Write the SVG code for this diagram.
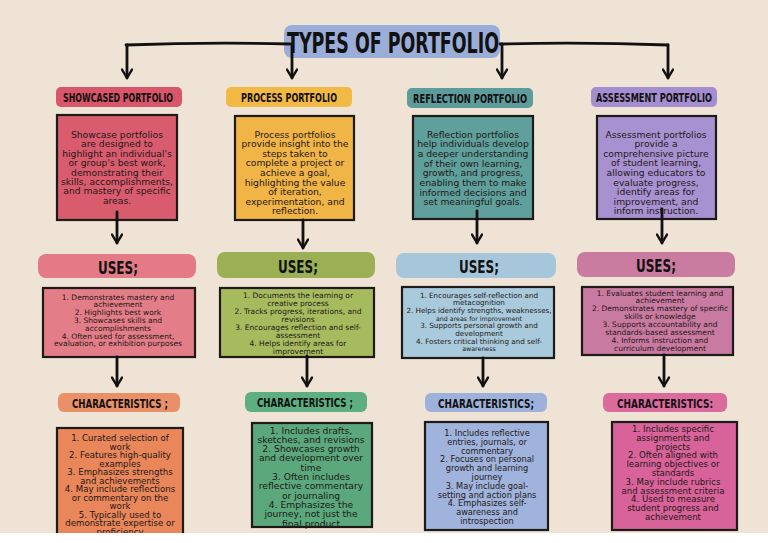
<svg xmlns="http://www.w3.org/2000/svg" width="768" height="543" viewBox="0 0 768 543">
<defs>
<style>
.hd{font-family:"DejaVu Sans Condensed","DejaVu Sans",sans-serif;font-weight:bold;fill:#111;text-anchor:middle}
.bd{font-family:"DejaVu Sans","Liberation Sans",sans-serif;fill:#1f1816;text-anchor:middle}
.box{stroke:#1e1a18;stroke-width:2.2}
.con{fill:none;stroke:#111;stroke-width:2.8;stroke-linecap:round}
</style>
<marker id="ah" viewBox="0 0 12 12" refX="10" refY="6" markerWidth="12" markerHeight="12" markerUnits="userSpaceOnUse" orient="auto">
<path d="M1.5,1 L10,6 L1.5,11" fill="none" stroke="#111" stroke-width="2.4" stroke-linecap="round" stroke-linejoin="round"/>
</marker>
</defs>
<rect x="0" y="0" width="768" height="543" fill="#eee3d4"/>

<g id="title">
<rect x="284" y="25" width="216" height="33" rx="8" fill="#9aaed9"/>
<text class="hd" x="393" y="53" font-size="28" textLength="212" lengthAdjust="spacingAndGlyphs">TYPES OF PORTFOLIO</text>
</g>

<g id="showcased">
<rect x="56" y="87" width="126" height="20" rx="5" fill="#d9566a"/>
<text class="hd" x="118" y="102" font-size="12" textLength="110" lengthAdjust="spacingAndGlyphs">SHOWCASED PORTFOLIO</text>
<rect class="box" x="57" y="115" width="120" height="105" fill="#d95c6e"/>
<text class="bd" font-size="9.2"><tspan x="117" y="138">Showcase portfolios</tspan><tspan x="117" y="147.4">are designed to</tspan><tspan x="117" y="156.8">highlight an individual's</tspan><tspan x="117" y="166.2">or group's best work,</tspan><tspan x="117" y="175.6">demonstrating their</tspan><tspan x="117" y="185">skills, accomplishments,</tspan><tspan x="117" y="194.4">and mastery of specific</tspan><tspan x="117" y="203.8">areas.</tspan></text>
</g>

<g id="process">
<rect x="226" y="87" width="126" height="20" rx="5" fill="#f3b945"/>
<text class="hd" x="289" y="102" font-size="12" textLength="96" lengthAdjust="spacingAndGlyphs">PROCESS PORTFOLIO</text>
<rect class="box" x="235" y="116" width="119" height="104" fill="#f0b447"/>
<text class="bd" font-size="9.2"><tspan x="295" y="137.5">Process portfolios</tspan><tspan x="295" y="147.1">provide insight into the</tspan><tspan x="295" y="156.7">steps taken to</tspan><tspan x="295" y="166.3">complete a project or</tspan><tspan x="295" y="175.9">achieve a goal,</tspan><tspan x="295" y="185.5">highlighting the value</tspan><tspan x="295" y="195.1">of iteration,</tspan><tspan x="295" y="204.7">experimentation, and</tspan><tspan x="295" y="214.3">reflection.</tspan></text>
</g>

<g id="reflection">
<rect x="407" y="88" width="126" height="20" rx="5" fill="#5d9c9a"/>
<text class="hd" x="470" y="103" font-size="12" textLength="114" lengthAdjust="spacingAndGlyphs">REFLECTION PORTFOLIO</text>
<rect class="box" x="413" y="116" width="120" height="103" fill="#5f9f9c"/>
<text class="bd" font-size="9.2"><tspan x="473" y="137.5">Reflection portfolios</tspan><tspan x="473" y="147.2">help individuals develop</tspan><tspan x="473" y="156.9">a deeper understanding</tspan><tspan x="473" y="166.6">of their own learning,</tspan><tspan x="473" y="176.3">growth, and progress,</tspan><tspan x="473" y="186">enabling them to make</tspan><tspan x="473" y="195.7">informed decisions and</tspan><tspan x="473" y="205.4">set meaningful goals.</tspan></text>
</g>

<g id="assessment">
<rect x="591" y="87" width="126" height="20" rx="5" fill="#a58ed0"/>
<text class="hd" x="654" y="102" font-size="12" textLength="116" lengthAdjust="spacingAndGlyphs">ASSESSMENT PORTFOLIO</text>
<rect class="box" x="597" y="116" width="119" height="103" fill="#a891d1"/>
<text class="bd" font-size="9.2"><tspan x="656" y="137.5">Assessment portfolios</tspan><tspan x="656" y="147.1">provide a</tspan><tspan x="656" y="156.7">comprehensive picture</tspan><tspan x="656" y="166.3">of student learning,</tspan><tspan x="656" y="175.9">allowing educators to</tspan><tspan x="656" y="185.5">evaluate progress,</tspan><tspan x="656" y="195.1">identify areas for</tspan><tspan x="656" y="204.7">improvement, and</tspan><tspan x="656" y="214.3">inform instruction.</tspan></text>
</g>

<g id="uses-showcased">
<rect x="38" y="254" width="158" height="24" rx="8" fill="#e47a86"/>
<text class="hd" x="118" y="274" font-size="17" textLength="40" lengthAdjust="spacingAndGlyphs">USES;</text>
<rect class="box" x="43" y="288" width="152" height="69" fill="#e37d87"/>
<text class="bd" font-size="7.5"><tspan x="118" y="299.5">1. Demonstrates mastery and</tspan><tspan x="118" y="307.3">achievement</tspan><tspan x="118" y="315.1">2. Highlights best work</tspan><tspan x="118" y="322.9">3. Showcases skills and</tspan><tspan x="118" y="330.7">accomplishments</tspan><tspan x="118" y="338.5">4. Often used for assessment,</tspan><tspan x="118" y="346.3">evaluation, or exhibition purposes</tspan></text>
</g>

<g id="uses-process">
<rect x="217" y="252" width="158" height="26" rx="8" fill="#9bb055"/>
<text class="hd" x="298" y="273" font-size="17" textLength="40" lengthAdjust="spacingAndGlyphs">USES;</text>
<rect class="box" x="220" y="288" width="154" height="69" fill="#a6bb5e"/>
<text class="bd" font-size="7.5"><tspan x="298" y="297.5">1. Documents the learning or</tspan><tspan x="298" y="305.6">creative process</tspan><tspan x="298" y="313.7">2. Tracks progress, iterations, and</tspan><tspan x="298" y="321.8">revisions</tspan><tspan x="298" y="329.9">3. Encourages reflection and self-</tspan><tspan x="298" y="338">assessment</tspan><tspan x="298" y="346.1">4. Helps identify areas for</tspan><tspan x="298" y="354.2">improvement</tspan></text>
</g>

<g id="uses-reflection">
<rect x="396" y="253" width="160" height="25" rx="8" fill="#a6c6dc"/>
<text class="hd" x="479" y="273" font-size="17" textLength="40" lengthAdjust="spacingAndGlyphs">USES;</text>
<rect class="box" x="402" y="287" width="152" height="71" fill="#a9c9dc"/>
<text class="bd" font-size="7.2"><tspan x="479" y="297.5">1. Encourages self-reflection and</tspan><tspan x="479" y="305.2">metacognition</tspan><tspan x="479" y="312.9">2. Helps identify strengths, weaknesses,</tspan><tspan x="479" y="320.6" font-size="6.3">and areas for improvement</tspan><tspan x="479" y="328.3">3. Supports personal growth and</tspan><tspan x="479" y="336">development</tspan><tspan x="479" y="343.7">4. Fosters critical thinking and self-</tspan><tspan x="479" y="351.4" font-size="6.3">awareness</tspan></text>
</g>

<g id="uses-assessment">
<rect x="577" y="252" width="158" height="25" rx="8" fill="#c97ba0"/>
<text class="hd" x="656" y="272" font-size="17" textLength="40" lengthAdjust="spacingAndGlyphs">USES;</text>
<rect class="box" x="582" y="287" width="151" height="68" fill="#c87aa0"/>
<text class="bd" font-size="7.5"><tspan x="660" y="295.5">1. Evaluates student learning and</tspan><tspan x="660" y="303.4">achievement</tspan><tspan x="660" y="311.3">2. Demonstrates mastery of specific</tspan><tspan x="660" y="319.2">skills or knowledge</tspan><tspan x="660" y="327.1">3. Supports accountability and</tspan><tspan x="660" y="335">standards-based assessment</tspan><tspan x="660" y="342.9">4. Informs instruction and</tspan><tspan x="660" y="350.8">curriculum development</tspan></text>
</g>

<g id="chars-showcased">
<rect x="58" y="393" width="122" height="19" rx="6" fill="#e99068"/>
<text class="hd" x="120" y="408" font-size="13" textLength="96" lengthAdjust="spacingAndGlyphs">CHARACTERISTICS ;</text>
<rect class="box" x="57" y="428" width="126" height="115" fill="#e9865a"/>
<text class="bd" font-size="8.6"><tspan x="120" y="441">1. Curated selection of</tspan><tspan x="120" y="449.5">work</tspan><tspan x="120" y="458">2. Features high-quality</tspan><tspan x="120" y="466.5">examples</tspan><tspan x="120" y="475">3. Emphasizes strengths</tspan><tspan x="120" y="483.5">and achievements</tspan><tspan x="120" y="492">4. May include reflections</tspan><tspan x="120" y="500.5">or commentary on the</tspan><tspan x="120" y="509">work</tspan><tspan x="120" y="517.5">5. Typically used to</tspan><tspan x="120" y="526">demonstrate expertise or</tspan><tspan x="120" y="534.5">proficiency</tspan></text>
</g>

<g id="chars-process">
<rect x="245" y="392" width="122" height="20" rx="6" fill="#5daf82"/>
<text class="hd" x="305" y="407" font-size="13" textLength="96" lengthAdjust="spacingAndGlyphs">CHARACTERISTICS ;</text>
<rect class="box" x="252" y="423" width="120" height="104" fill="#5aa87c"/>
<text class="bd" font-size="9.2"><tspan x="311" y="433.5">1. Includes drafts,</tspan><tspan x="311" y="442.8">sketches, and revisions</tspan><tspan x="311" y="452.1">2. Showcases growth</tspan><tspan x="311" y="461.4">and development over</tspan><tspan x="311" y="470.7">time</tspan><tspan x="311" y="480">3. Often includes</tspan><tspan x="311" y="489.3">reflective commentary</tspan><tspan x="311" y="498.6">or journaling</tspan><tspan x="311" y="507.9">4. Emphasizes the</tspan><tspan x="311" y="517.2">journey, not just the</tspan><tspan x="311" y="526.5">final product</tspan></text>
</g>

<g id="chars-reflection">
<rect x="425" y="393" width="122" height="19" rx="6" fill="#9db1da"/>
<text class="hd" x="486" y="408" font-size="13" textLength="96" lengthAdjust="spacingAndGlyphs">CHARACTERISTICS;</text>
<rect class="box" x="425" y="422" width="123" height="108" fill="#9fb3dc"/>
<text class="bd" font-size="8.2"><tspan x="487" y="436">1. Includes reflective</tspan><tspan x="487" y="444.8">entries, journals, or</tspan><tspan x="487" y="453.6">commentary</tspan><tspan x="487" y="462.4">2. Focuses on personal</tspan><tspan x="487" y="471.2">growth and learning</tspan><tspan x="487" y="480">journey</tspan><tspan x="487" y="488.8">3. May include goal-</tspan><tspan x="487" y="497.6">setting and action plans</tspan><tspan x="487" y="506.4">4. Emphasizes self-</tspan><tspan x="487" y="515.2">awareness and</tspan><tspan x="487" y="524">introspection</tspan></text>
</g>

<g id="chars-assessment">
<rect x="603" y="393" width="124" height="19" rx="6" fill="#db6a9d"/>
<text class="hd" x="665" y="408" font-size="13" textLength="96" lengthAdjust="spacingAndGlyphs">CHARACTERISTICS:</text>
<rect class="box" x="612" y="422" width="125" height="108" fill="#d8639a"/>
<text class="bd" font-size="8.6"><tspan x="673" y="432">1. Includes specific</tspan><tspan x="673" y="440.8">assignments and</tspan><tspan x="673" y="449.6">projects</tspan><tspan x="673" y="458.4">2. Often aligned with</tspan><tspan x="673" y="467.2">learning objectives or</tspan><tspan x="673" y="476">standards</tspan><tspan x="673" y="484.8">3. May include rubrics</tspan><tspan x="673" y="493.6">and assessment criteria</tspan><tspan x="673" y="502.4">4. Used to measure</tspan><tspan x="673" y="511.2">student progress and</tspan><tspan x="673" y="520">achievement</tspan></text>
</g>

<g id="connectors">
<path class="con" d="M126,45 Q210,42 290,44"/>
<path class="con" d="M500,44 Q585,42 668,45"/>
<path class="con" d="M127,45 L127,78" marker-end="url(#ah)"/>
<path class="con" d="M292,44 L292,78" marker-end="url(#ah)"/>
<path class="con" d="M502,44 L502,78" marker-end="url(#ah)"/>
<path class="con" d="M668,45 L668,78" marker-end="url(#ah)"/>
<path class="con" d="M117,212 L117,243" marker-end="url(#ah)"/>
<path class="con" d="M303,220 L303,248" marker-end="url(#ah)"/>
<path class="con" d="M477,211 L477,243" marker-end="url(#ah)"/>
<path class="con" d="M662,209 L662,243" marker-end="url(#ah)"/>
<path class="con" d="M117,357 L117,386" marker-end="url(#ah)"/>
<path class="con" d="M307,356 L307,386" marker-end="url(#ah)"/>
<path class="con" d="M483,358 L483,386" marker-end="url(#ah)"/>
<path class="con" d="M664,355 L664,386" marker-end="url(#ah)"/>
</g>

<rect x="0" y="533" width="768" height="10" fill="#ffffff"/>
</svg>
